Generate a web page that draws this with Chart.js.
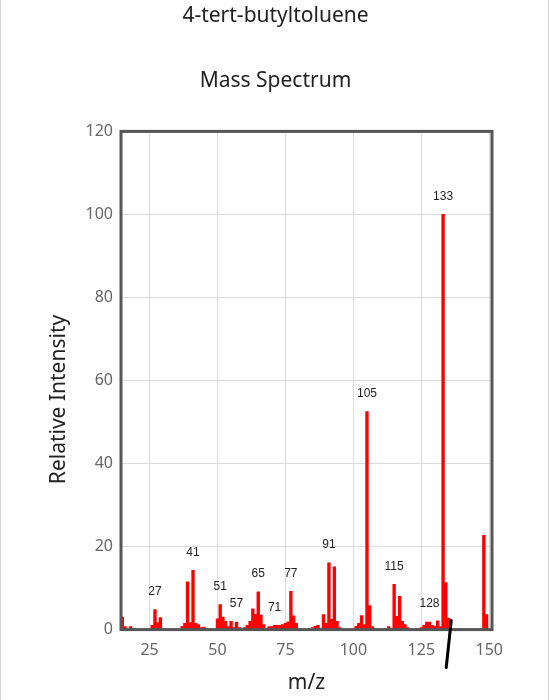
<!DOCTYPE html>
<html>
<head>
<meta charset="utf-8">
<title>4-tert-butyltoluene - Mass Spectrum</title>
<script src="https://cdn.jsdelivr.net/npm/chart.js@4.4.1/dist/chart.umd.min.js"></script>
<style>
  html, body { margin: 0; padding: 0; background: #fff; }
  #wrap { position: relative; width: 549px; height: 700px; box-sizing: border-box;
          border-left: 1px solid #d4d4d4; border-right: 1px solid #d4d4d4; }
</style>
</head>
<body>
<div id="wrap"><canvas id="spectrum"></canvas></div>
<script>
// m/z e intensidade relativa
var mzValues = [15, 16, 18, 26, 27, 28, 29, 37, 38, 39, 40, 41, 42, 43, 44, 45,
  50, 51, 52, 53, 54, 55, 56, 57, 58, 60, 61, 62, 63, 64, 65, 66, 67, 69, 70,
  71, 72, 73, 74, 75, 76, 77, 78, 79, 85, 86, 87, 89, 90, 91, 92, 93, 94, 95,
  101, 102, 103, 104, 105, 106, 107, 113, 115, 116, 117, 118, 119, 120,
  125, 126, 127, 128, 129, 130, 131, 132, 133, 134, 135, 148, 149];
var intensity = [3.0, 0.7, 0.7, 1.0, 4.8, 1.7, 2.9, 0.8, 1.5, 11.5, 1.7, 14.3, 1.5, 1.2, 0.5, 0.6,
  2.6, 6.0, 3.0, 2.0, 0.7, 2.0, 0.5, 1.8, 0.5, 0.5, 1.0, 2.0, 5.0, 3.7, 9.1, 3.5, 1.2, 0.7, 0.7,
  1.0, 1.0, 1.0, 1.2, 1.5, 1.9, 9.2, 3.3, 1.5, 0.5, 0.8, 1.0, 3.6, 1.5, 16.1, 2.5, 15.1, 2.0, 0.5,
  0.8, 1.5, 3.4, 1.2, 52.5, 5.8, 0.7, 0.7, 10.9, 3.2, 8.0, 2.0, 1.2, 0.5,
  0.5, 1.0, 1.8, 1.8, 1.0, 0.8, 2.1, 0.7, 100, 11.3, 2.8, 22.7, 3.6];
var peakLabels = [27, 41, 51, 57, 65, 71, 77, 91, 105, 115, 128, 133];
var xTicks = [25, 50, 75, 100, 125, 150];
var yTicks = [0, 20, 40, 60, 80, 100, 120];

var FONTE = '"Noto Sans", "Open Sans", sans-serif';

// rótulos dos picos acima das barras
var rotulosPicos = {
  id: 'rotulosPicos',
  afterDatasetsDraw: function (chart) {
    var meta = chart.getDatasetMeta(0);
    var ctx = chart.ctx;
    ctx.save();
    ctx.font = '12px "Liberation Sans", Arial, sans-serif';
    ctx.fillStyle = '#222';
    ctx.textAlign = 'center';
    ctx.textBaseline = 'middle';
    peakLabels.forEach(function (m) {
      var i = mzValues.indexOf(m);
      if (i < 0) return;
      var el = meta.data[i];
      ctx.fillText(String(m), el.x, el.y - 18);
    });
    ctx.restore();
  }
};

// moldura escura em volta da área do gráfico, título do eixo Y e traço preto
var moldura = {
  id: 'moldura',
  afterDraw: function (chart) {
    var a = chart.chartArea;
    var ctx = chart.ctx;
    ctx.save();
    ctx.strokeStyle = '#555';
    ctx.lineWidth = 3;
    ctx.strokeRect(a.left, a.top, a.right - a.left, a.bottom - a.top);

    // título do eixo Y (um pouco abaixo do centro, como no original)
    ctx.save();
    ctx.translate(chart.scales.y.left, (a.top + a.bottom) / 2 + 19);
    ctx.rotate(-Math.PI / 2);
    ctx.font = '21px ' + FONTE;
    ctx.fillStyle = '#222';
    ctx.textAlign = 'center';
    ctx.textBaseline = 'middle';
    ctx.fillText('Relative Intensity', 0, 0);
    ctx.restore();

    var px = chart.scales.x.getPixelForValue(136);
    var py = chart.scales.y.getPixelForValue(2.2);
    ctx.strokeStyle = '#000';
    ctx.lineWidth = 3;
    ctx.lineCap = 'round';
    ctx.beginPath();
    ctx.moveTo(px, py);
    ctx.lineTo(px - 5, py + 47);
    ctx.stroke();
    ctx.restore();
  }
};

new Chart(document.getElementById('spectrum').getContext('2d'), {
  type: 'bar',
  data: {
    datasets: [{
      label: 'Relative Intensity',
      data: mzValues.map(function (m, i) { return { x: m, y: intensity[i] }; }),
      backgroundColor: '#ff0000',
      borderWidth: 0,
      barPercentage: 1,
      categoryPercentage: 1
    }]
  },
  options: {
    responsive: true,
    maintainAspectRatio: false,
    animation: false,
    layout: { padding: { left: 58, right: 56, top: 3, bottom: 0 } },
    plugins: {
      legend: { display: false },
      tooltip: { enabled: false },
      title: {
        display: true,
        text: '4-tert-butyltoluene',
        color: '#222',
        font: { family: FONTE, size: 21, weight: 'normal' },
        padding: { top: 0, bottom: 40 }
      },
      subtitle: {
        display: true,
        text: 'Mass Spectrum',
        color: '#222',
        font: { family: FONTE, size: 21, weight: 'normal' },
        padding: { top: 0, bottom: 38 }
      }
    },
    scales: {
      x: {
        type: 'linear',
        min: 14.5,
        max: 151,
        offset: false,
        afterBuildTicks: function (s) { s.ticks = xTicks.map(function (v) { return { value: v }; }); },
        grid: { color: '#dcdcdc', drawTicks: false, offset: false },
        border: { display: false },
        ticks: { color: '#666', padding: 11, font: { family: FONTE, size: 16 } },
        title: { display: true, text: 'm/z', color: '#222', font: { family: FONTE, size: 21 }, padding: { top: 0 } }
      },
      y: {
        min: 0,
        max: 120,
        afterBuildTicks: function (s) { s.ticks = yTicks.map(function (v) { return { value: v }; }); },
        afterFit: function (s) { s.width = 62; },
        grid: { color: '#dcdcdc', drawTicks: false },
        border: { display: false },
        ticks: { color: '#666', padding: 8, font: { family: FONTE, size: 16 } }
      }
    }
  },
  plugins: [rotulosPicos, moldura]
});
</script>
</body>
</html>
